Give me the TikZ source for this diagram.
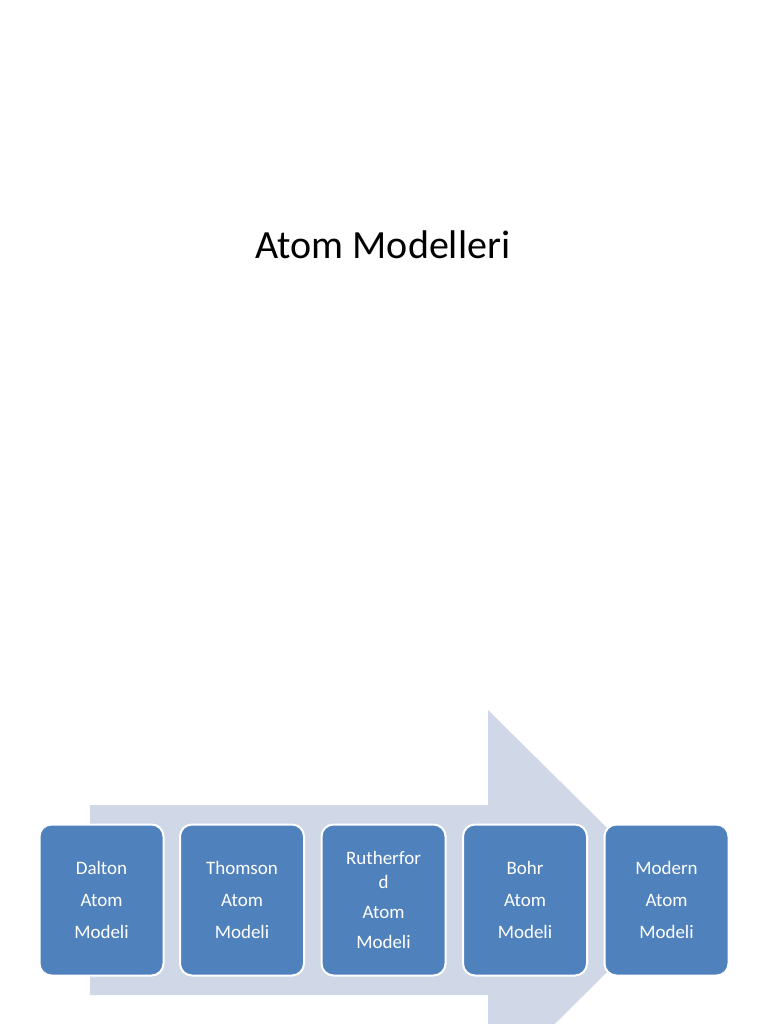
\documentclass[tikz,border=0pt]{standalone}
\usepackage{fontspec}
\setmainfont{Carlito}
\definecolor{boxblue}{RGB}{79,129,189}
\definecolor{arrowbg}{RGB}{208,216,232}
\begin{document}
\begin{tikzpicture}[x=1pt,y=-1pt,
  box/.style={draw=white,line width=2pt,fill=boxblue,rounded corners=12pt,minimum width=124pt,minimum height=151pt,text=white,font=\fontsize{19}{32}\selectfont,align=center,text width=110pt}]
\useasboundingbox (0,0) rectangle (768,1024);
\begin{scope}
\clip (0,0) rectangle (768,1024);
\fill[arrowbg] (90,805) -- (488,805) -- (488,710) -- (680,900) -- (488,1090) -- (488,995) -- (90,995) -- cycle;
\end{scope}
\node (title) at (383,245) {\fontsize{40}{48}\selectfont Atom Modelleri};
\node[box] (d) at (101.5,900) {Dalton\\Atom\\Modeli};
\node[box] (t) at (242,900) {Thomson\\Atom\\Modeli};
\node[box] (r) at (383.5,900) {};
\node[align=center,text=white,font=\fontsize{19}{24}\selectfont] (rt) at (383.5,900) {Rutherfor\\d\\[6pt]Atom\\[6pt]Modeli};
\node[box] (b) at (525,900) {Bohr\\Atom\\Modeli};
\node[box] (m) at (666.5,900) {Modern\\Atom\\Modeli};
\end{tikzpicture}
\end{document}
